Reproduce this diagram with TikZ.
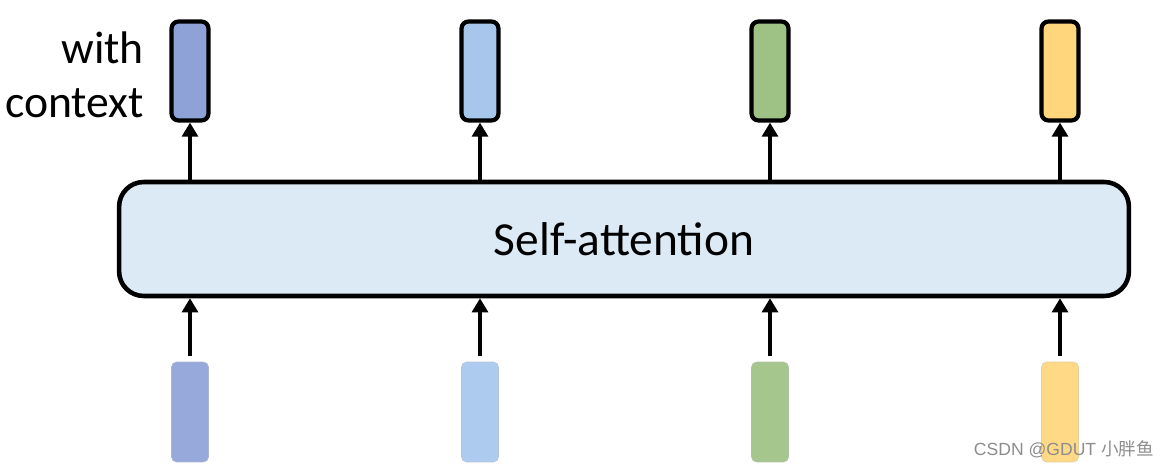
\documentclass[tikz,border=0pt]{standalone}
\usetikzlibrary{arrows.meta}
\usepackage{fontspec}
\setmainfont{Carlito}
\newfontfamily\wmfont{Liberation Sans}
\newfontfamily\cjk{Noto Sans CJK SC}
\begin{document}
\begin{tikzpicture}[x=0.02cm,y=-0.02cm,
  outbox/.style={draw=black,line width=2.4pt,rounded corners=4pt,minimum width=0.74cm,minimum height=1.98cm,inner sep=0pt},
  inbox/.style={draw=#1!80!black!60,line width=0.4pt,rounded corners=3pt,minimum width=0.74cm,minimum height=2.0cm,inner sep=0pt},
  arr/.style={-{Triangle[length=8pt,width=9pt]},line width=2.6pt}]
\useasboundingbox (0,0) rectangle (1173,469);
\definecolor{cA}{HTML}{8EA2D8}
\definecolor{cB}{HTML}{A6C6EC}
\definecolor{cC}{HTML}{9DC284}
\definecolor{cD}{HTML}{FFD67C}
\definecolor{sa}{HTML}{DCEAF5}
\node[draw=black,line width=2.6pt,rounded corners=14pt,fill=sa,minimum width=20.2cm,minimum height=2.28cm,font=\fontsize{27}{30}\selectfont] (sa) at (624,239) {Self-at{}tention};
\foreach \i/\x/\c in {1/190/cA,2/480/cB,3/770/cC,4/1060/cD}{
  \node[outbox,fill=\c] (o\i) at (\x,71) {};
  \node[inbox=\c,fill=\c!92!white] (in\i) at (\x,412) {};
  \path (sa.south -| in\i) ++(0,58) coordinate (s\i);
  \draw[arr] (s\i) -- (sa.south -| in\i);
  \draw[arr] (sa.north -| o\i) -- (o\i.south);
}
\node[align=right,anchor=east,font=\fontsize{26}{31}\selectfont] (lab) at (150,75) {with\\context};
\node[anchor=east,text=black!45,font=\fontsize{10}{12}\selectfont] (wm) at (1160,449) {\wmfont CSDN @GDUT \cjk 小胖鱼};
\end{tikzpicture}
\end{document}
